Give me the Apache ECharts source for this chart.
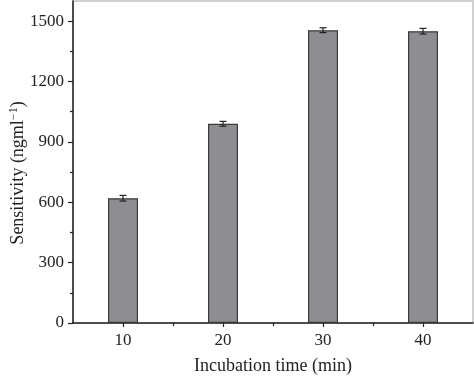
<!DOCTYPE html>
<html>
<head>
<meta charset="utf-8">
<script src="https://cdn.jsdelivr.net/npm/echarts@6/dist/echarts.min.js"></script>
<style>
html,body{margin:0;padding:0;background:#fff;}
#chart{width:474px;height:379px;}
</style>
</head>
<body>
<div id="chart"></div>
<script>
var times = [10, 20, 30, 40];
var sensitivity = [620, 990, 1455, 1450];
var errors = [14, 12, 12, 14];
var yMajorTicks = [0, 300, 600, 900, 1200, 1500];
var yMinorTicks = [150, 450, 750, 1050, 1350];
var xMinorTicks = [15, 25, 35];

var font = '"Liberation Serif", "DejaVu Serif", serif';
var ink = '#222';

var barData = times.map(function (t, i) { return [t, sensitivity[i]]; });
var errData = times.map(function (t, i) { return [t, sensitivity[i] - errors[i], sensitivity[i] + errors[i]]; });

var chart = echarts.init(document.getElementById('chart'), null, {renderer: 'canvas'});
chart.setOption({
  animation: false,
  backgroundColor: '#fff',
  grid: {left: 73, right: 1, top: 1, bottom: 56, containLabel: false, outerBoundsMode: 'none',
    show: true, borderColor: '#d0d0d0', borderWidth: 2, backgroundColor: 'transparent'},
  xAxis: [{
    type: 'value', min: 5, max: 45,
    axisLine: {lineStyle: {color: ink, width: 1.5}},
    axisTick: {show: true, length: 4, customValues: times, lineStyle: {color: ink, width: 1.2}},
    axisLabel: {customValues: times, color: ink, fontFamily: font, fontSize: 17, margin: 9,
      formatter: function (v) { return String(v); }},
    splitLine: {show: false},
    name: 'Incubation time (min)', nameLocation: 'middle', nameGap: 34, nameMoveOverlap: false,
    nameTextStyle: {color: ink, fontFamily: font, fontSize: 18}
  }, {
    type: 'value', min: 5, max: 45, position: 'bottom',
    axisLine: {show: false},
    axisTick: {show: true, length: 3, customValues: xMinorTicks, lineStyle: {color: ink, width: 1.2}},
    axisLabel: {show: false},
    splitLine: {show: false}
  }],
  yAxis: [{
    type: 'value', min: 0, max: 1600,
    axisLine: {show: true, lineStyle: {color: ink, width: 1.5}},
    axisTick: {show: true, length: 5, customValues: yMajorTicks, lineStyle: {color: ink, width: 1.2}},
    axisLabel: {customValues: yMajorTicks, color: ink, fontFamily: font, fontSize: 17, margin: 9,
      formatter: function (v) { return String(v); }},
    splitLine: {show: false},
    name: '{n|Sensitivity (ngml}{s|−1}{n|)}', nameLocation: 'middle', nameGap: 45, nameMoveOverlap: false,
    nameTextStyle: {
      color: ink, fontFamily: font, fontSize: 18, padding: [0, 22, 0, 0],
      rich: {
        n: {fontFamily: font, fontSize: 18, color: ink},
        s: {fontFamily: font, fontSize: 12, color: ink, verticalAlign: 'top', padding: [0, 0, 8, 0]}
      }
    }
  }, {
    type: 'value', min: 0, max: 1600, position: 'left',
    axisLine: {show: false},
    axisTick: {show: true, length: 3, customValues: yMinorTicks, lineStyle: {color: ink, width: 1.2}},
    axisLabel: {show: false},
    splitLine: {show: false}
  }],
  series: [{
    type: 'bar',
    xAxisIndex: 0, yAxisIndex: 0,
    data: barData,
    barWidth: 30,
    itemStyle: {color: '#8e8e92', borderColor: '#3a3a3a', borderWidth: 1.2},
    z: 2
  }, {
    type: 'custom',
    xAxisIndex: 0, yAxisIndex: 0,
    data: errData,
    z: 3,
    renderItem: function (params, api) {
      var x = api.value(0);
      var lo = api.coord([x, api.value(1)]);
      var hi = api.coord([x, api.value(2)]);
      var hw = 3.5;
      var style = {stroke: '#222', lineWidth: 1.2};
      return {
        type: 'group',
        children: [
          {type: 'line', shape: {x1: lo[0], y1: lo[1], x2: hi[0], y2: hi[1]}, style: style},
          {type: 'line', shape: {x1: lo[0] - hw, y1: lo[1], x2: lo[0] + hw, y2: lo[1]}, style: style},
          {type: 'line', shape: {x1: hi[0] - hw, y1: hi[1], x2: hi[0] + hw, y2: hi[1]}, style: style}
        ]
      };
    }
  }]
});
</script>
</body>
</html>
